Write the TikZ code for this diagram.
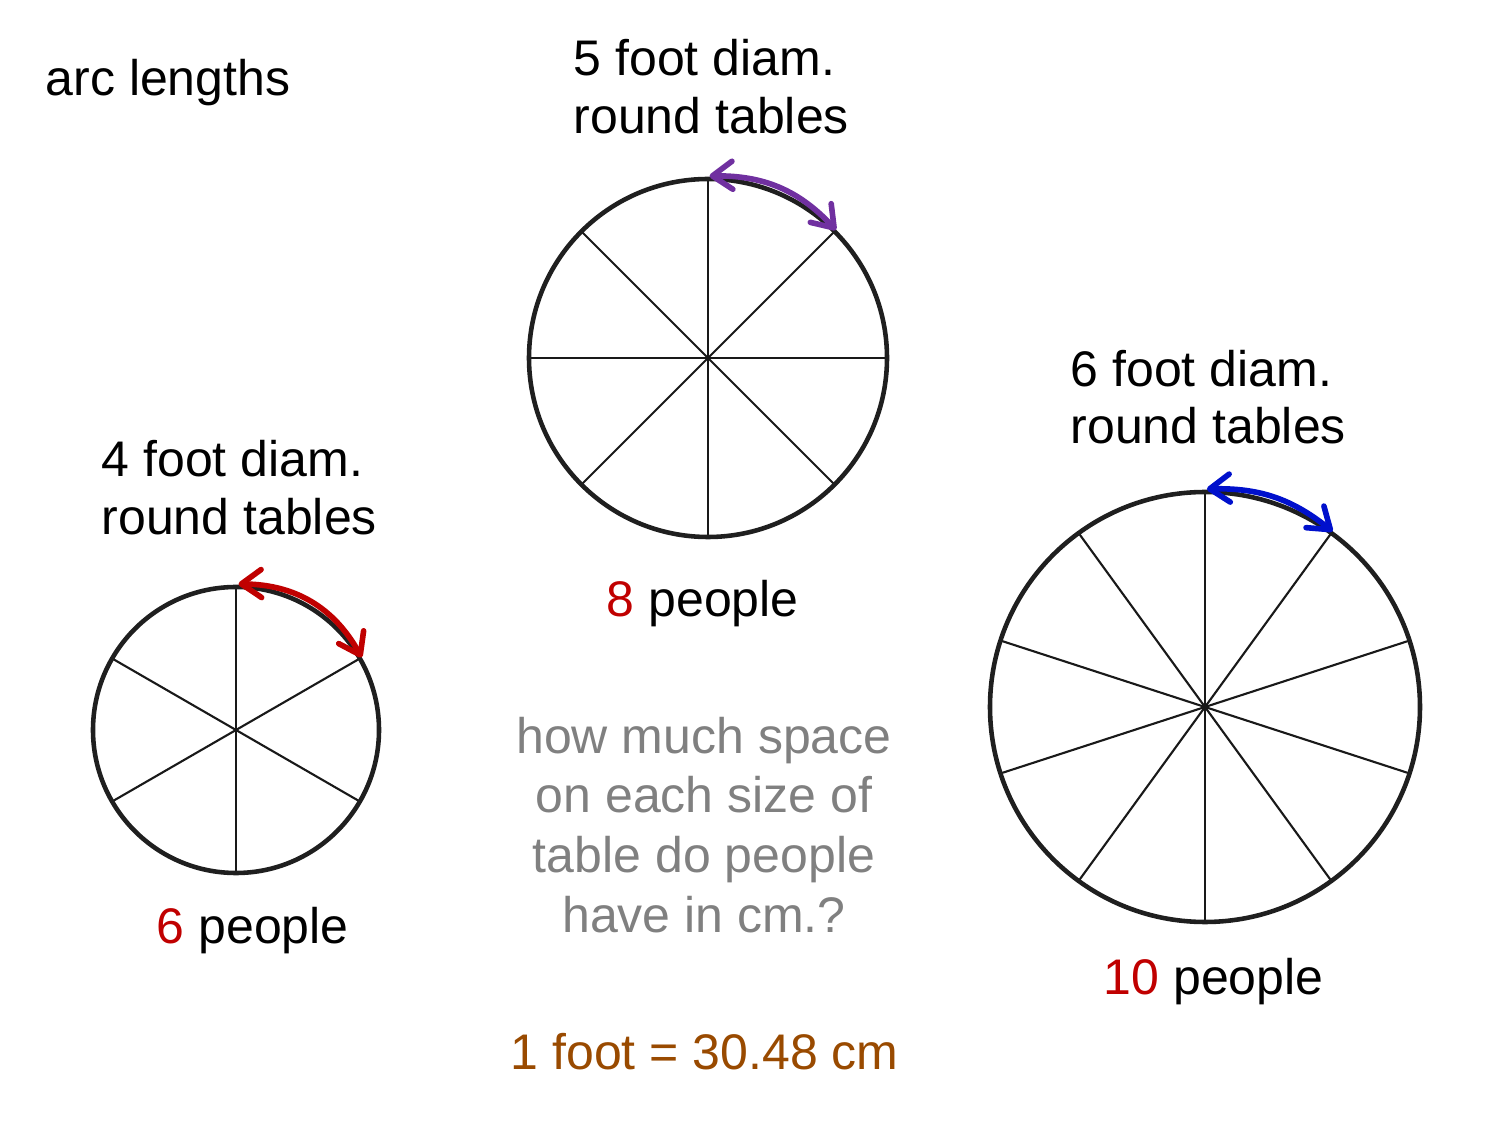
\documentclass[tikz,border=0pt]{standalone}
\usepackage{fontspec}
\setmainfont{Liberation Sans}
\usetikzlibrary{arrows.meta,bending,positioning,calc}

\definecolor{seatred}{RGB}{192,0,0}
\definecolor{arcpurple}{RGB}{112,48,160}
\definecolor{arcblue}{RGB}{0,16,204}
\definecolor{footbrown}{RGB}{153,74,0}
\definecolor{askgray}{RGB}{128,128,128}

\tikzset{
  txt/.style={anchor=base west,inner sep=0pt,font=\fontsize{14.23}{17.07}\selectfont},
  tablerim/.style={draw=black!88,line width=1.3pt},
  spoke/.style={draw=black!90,line width=0.6pt},
  arcarrow/.style={line width=1.6pt,{Straight Barb[length=2mm,width=2.8mm,round,flex]}-{Straight Barb[length=2mm,width=2.8mm,round,flex]}}
}

\begin{document}
\begin{tikzpicture}
\useasboundingbox (0,0) rectangle (15,11.25);

\node [txt] (title) at (0.45,10.29) {arc lengths};

% 4 foot table, 6 people
\coordinate (T4) at (2.36,3.95);
\draw [spoke] ($(T4)+(90:1.43)$) -- ($(T4)+(270:1.43)$);
\draw [spoke] ($(T4)+(30:1.43)$) -- ($(T4)+(210:1.43)$);
\draw [spoke] ($(T4)+(150:1.43)$) -- ($(T4)+(330:1.43)$);
\draw [tablerim] (T4) circle (1.43);
\coordinate (T4_top) at ($(T4)+(89:1.46)$);
\coordinate (T4_seat) at ($(T4)+(30:1.45)$);
\draw [arcarrow,seatred] (T4_top) to [bend left=32] (T4_seat);

\node [txt] (T4_a) at (1.01,6.48) {4 foot diam.};
\node [txt] (T4_b) at (1.01,5.90) {round tables};
\node [txt] (T4_n) at (1.56,1.81) {\textcolor{seatred}{6} people};

% 5 foot table, 8 people
\coordinate (T5) at (7.08,7.67);
\draw [spoke] ($(T5)+(90:1.79)$) -- ($(T5)+(270:1.79)$);
\draw [spoke] ($(T5)+(0:1.79)$) -- ($(T5)+(180:1.79)$);
\draw [spoke] ($(T5)+(45:1.79)$) -- ($(T5)+(225:1.79)$);
\draw [spoke] ($(T5)+(135:1.79)$) -- ($(T5)+(315:1.79)$);
\draw [tablerim] (T5) circle (1.79);
\coordinate (T5_top) at ($(T5)+(89.5:1.82)$);
\coordinate (T5_seat) at ($(T5)+(45:1.81)$);
\draw [arcarrow,arcpurple] (T5_top) to [bend left=25] (T5_seat);

\node [txt] (T5_a) at (5.73,10.49) {5 foot diam.};
\node [txt] (T5_b) at (5.73,9.91) {round tables};
\node [txt] (T5_n) at (6.06,5.08) {\textcolor{seatred}{8} people};

% 6 foot table, 10 people
\coordinate (T6) at (12.05,4.18);
\draw [spoke] ($(T6)+(90:2.15)$) -- ($(T6)+(270:2.15)$);
\draw [spoke] ($(T6)+(18:2.15)$) -- ($(T6)+(198:2.15)$);
\draw [spoke] ($(T6)+(54:2.15)$) -- ($(T6)+(234:2.15)$);
\draw [spoke] ($(T6)+(126:2.15)$) -- ($(T6)+(306:2.15)$);
\draw [spoke] ($(T6)+(162:2.15)$) -- ($(T6)+(342:2.15)$);
\draw [tablerim] (T6) circle (2.15);
\coordinate (T6_top) at ($(T6)+(89.5:2.18)$);
\coordinate (T6_seat) at ($(T6)+(54:2.17)$);
\draw [arcarrow,arcblue] (T6_top) to [bend left=21] (T6_seat);

\node [txt] (T6_a) at (10.70,7.38) {6 foot diam.};
\node [txt] (T6_b) at (10.70,6.81) {round tables};
\node [txt] (T6_n) at (11.03,1.31) {\textcolor{seatred}{10} people};

% question
\node [txt,anchor=base,askgray] (Q1) at (7.04,3.71) {how much space};
\node [txt,anchor=base,askgray] (Q2) at (7.04,3.12) {on each size of};
\node [txt,anchor=base,askgray] (Q3) at (7.04,2.52) {table do people};
\node [txt,anchor=base,askgray] (Q4) at (7.04,1.92) {have in cm.?};

\node [txt,footbrown] (conv) at (5.10,0.55) {1 foot = 30.48 cm};

\end{tikzpicture}
\end{document}
